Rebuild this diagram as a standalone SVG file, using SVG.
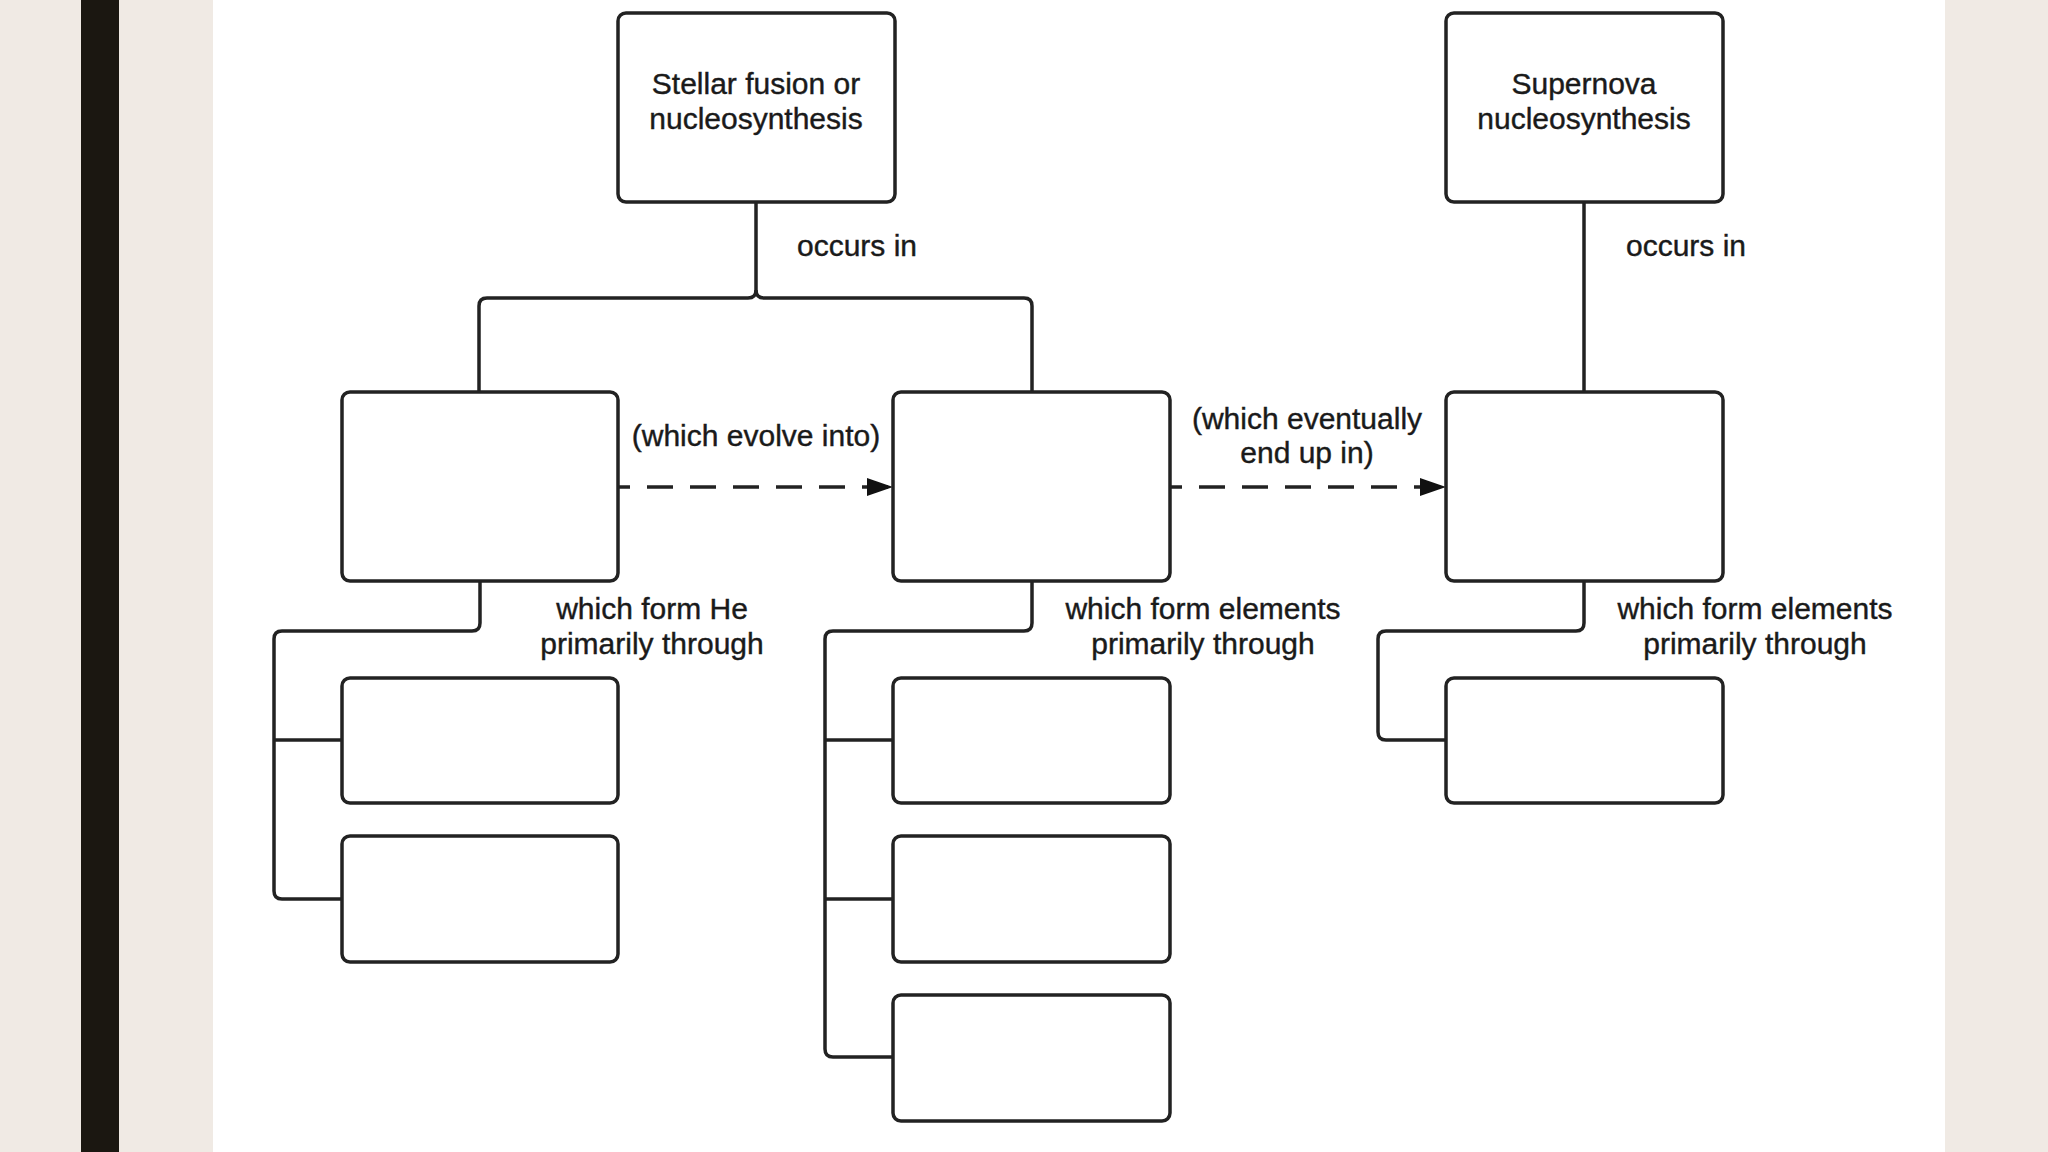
<svg xmlns="http://www.w3.org/2000/svg" width="2048" height="1152" viewBox="0 0 2048 1152">
<style>
.box{fill:#fff;stroke:#222;stroke-width:3.5}
.ln{fill:none;stroke:#222;stroke-width:3.5;stroke-linejoin:round}
.dash{fill:none;stroke:#222;stroke-width:3.5;stroke-dasharray:26 17;stroke-dashoffset:14}
.t{font-family:"Liberation Sans",Arial,sans-serif;font-size:30px;fill:#1a1a1a;stroke:#1a1a1a;stroke-width:0.4;text-anchor:middle}
.ts{font-family:"Liberation Sans",Arial,sans-serif;font-size:30px;fill:#1a1a1a;stroke:#1a1a1a;stroke-width:0.4;text-anchor:start}
</style>
<defs>
<marker id="arr" markerWidth="26" markerHeight="18" refX="26" refY="9" orient="auto" markerUnits="userSpaceOnUse">
<path d="M0,0 L26,9 L0,18 Z" fill="#111"/>
</marker>
</defs>
<rect x="0" y="0" width="2048" height="1152" fill="#F0EAE4"/>
<rect x="81" y="0" width="38" height="1152" fill="#1B1711"/>
<rect x="213" y="0" width="1732" height="1152" fill="#FFFFFF"/>

<g id="connectors">
<path class="ln" d="M756,202 V290 Q756,298 748,298 H487 Q479,298 479,306 V392"/>
<path class="ln" d="M756,290 Q756,298 764,298 H1024 Q1032,298 1032,306 V392"/>
<path class="ln" d="M1584,202 V392"/>
<path class="dash" d="M618,487 H893" marker-end="url(#arr)"/>
<path class="dash" d="M1170,487 H1446" marker-end="url(#arr)"/>
<path class="ln" d="M480,581 V623 Q480,631 472,631 H282 Q274,631 274,639 V891 Q274,899 282,899 H342"/>
<path class="ln" d="M274,740 H342"/>
<path class="ln" d="M1032,581 V623 Q1032,631 1024,631 H833 Q825,631 825,639 V1049 Q825,1057 833,1057 H893"/>
<path class="ln" d="M825,740 H893"/>
<path class="ln" d="M825,899 H893"/>
<path class="ln" d="M1584,581 V623 Q1584,631 1576,631 H1386 Q1378,631 1378,639 V732 Q1378,740 1386,740 H1446"/>
<text class="ts" x="797" y="256">occurs in</text>
<text class="ts" x="1626" y="256">occurs in</text>
<text class="t" x="756" y="446">(which evolve into)</text>
<text class="t" x="1307" y="429">(which eventually</text>
<text class="t" x="1307" y="463">end up in)</text>
<text class="t" x="652" y="619">which form He</text>
<text class="t" x="652" y="654">primarily through</text>
<text class="t" x="1203" y="619">which form elements</text>
<text class="t" x="1203" y="654">primarily through</text>
<text class="t" x="1755" y="619">which form elements</text>
<text class="t" x="1755" y="654">primarily through</text>
</g>

<g id="stellar"><rect class="box" x="618" y="13" width="277" height="189" rx="8"/>
<text class="t" x="756" y="94">Stellar fusion or</text>
<text class="t" x="756" y="129">nucleosynthesis</text></g>
<g id="supernova"><rect class="box" x="1446" y="13" width="277" height="189" rx="8"/>
<text class="t" x="1584" y="94">Supernova</text>
<text class="t" x="1584" y="129">nucleosynthesis</text></g>

<g id="midA"><rect class="box" x="342" y="392" width="276" height="189" rx="8"/></g>
<g id="midB"><rect class="box" x="893" y="392" width="277" height="189" rx="8"/></g>
<g id="midC"><rect class="box" x="1446" y="392" width="277" height="189" rx="8"/></g>

<g id="a1"><rect class="box" x="342" y="678" width="276" height="125" rx="8"/></g>
<g id="a2"><rect class="box" x="342" y="836" width="276" height="126" rx="8"/></g>
<g id="b1"><rect class="box" x="893" y="678" width="277" height="125" rx="8"/></g>
<g id="b2"><rect class="box" x="893" y="836" width="277" height="126" rx="8"/></g>
<g id="b3"><rect class="box" x="893" y="995" width="277" height="126" rx="8"/></g>
<g id="c1"><rect class="box" x="1446" y="678" width="277" height="125" rx="8"/></g>
</svg>
